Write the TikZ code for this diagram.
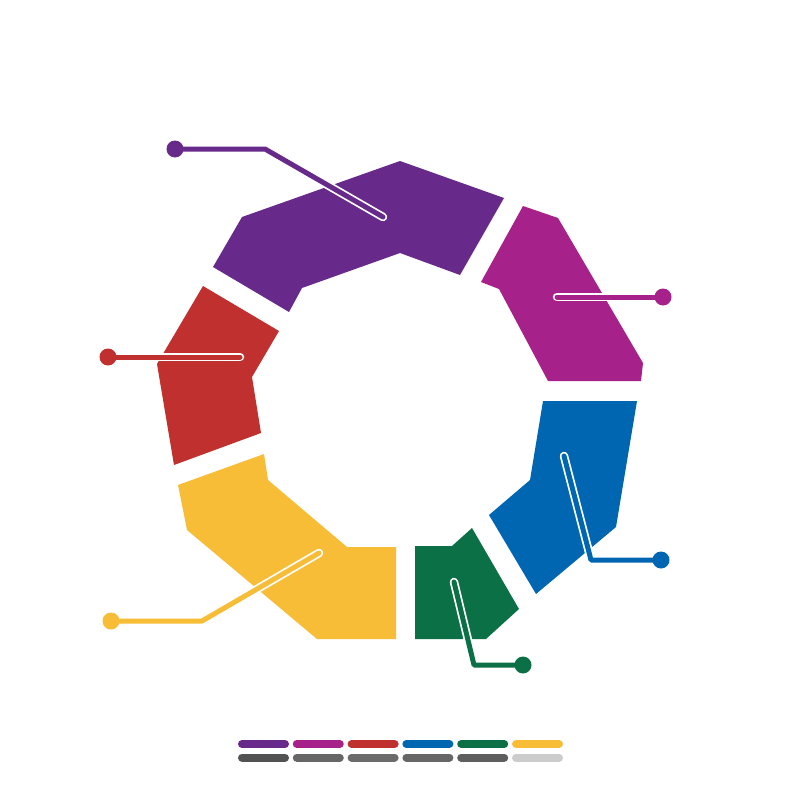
\documentclass[tikz,border=0pt]{standalone}
\usepackage{tikz}
\definecolor{grape}{RGB}{104,42,138}
\definecolor{plum}{RGB}{166,33,138}
\definecolor{brick}{RGB}{192,48,47}
\definecolor{ocean}{RGB}{0,102,178}
\definecolor{forest}{RGB}{11,112,69}
\definecolor{mustard}{RGB}{247,189,54}
\tikzset{
    lead/.style={draw=#1, line width=5pt, line cap=round, line join=round,
        preaction={draw=white, line width=8.5pt, line cap=round, line join=round}},
    dot/.style={shape=circle, inner sep=0pt, minimum size=17pt, fill=#1},
    bar/.style={draw=#1, line width=8pt, line cap=round}
}
\begin{document}
\begin{tikzpicture}[x=1pt,y=-1pt]
\useasboundingbox[fill=white] (0,0) rectangle (800,800);
% ring segments
\fill[grape]   (242,217) -- (400,161) -- (504,198) -- (460,275) -- (400,253) -- (302,288) -- (289,312) -- (213,267) -- cycle;
\fill[plum]    (523,206) -- (558,218) -- (643,363) -- (641,381) -- (548,381) -- (499,289) -- (481,282) -- cycle;
\fill[brick]   (203,286) -- (279,331) -- (252,377) -- (261,433) -- (174,465) -- (157,364) -- cycle;
\fill[ocean]   (543,401) -- (637,401) -- (616,527) -- (536,594) -- (489,515) -- (530,480) -- cycle;
\fill[forest]  (415,546) -- (452,546) -- (472,528) -- (519,609) -- (486,639) -- (415,639) -- cycle;
\fill[mustard] (178,485) -- (264,454) -- (268,480) -- (347,547) -- (396,547) -- (396,639) -- (317,639) -- (187,530) -- cycle;
% leads
\coordinate (p0) at (175,149); \coordinate (p1) at (265,149); \coordinate (p2) at (383,217);
\coordinate (m0) at (663,297); \coordinate (m1) at (557,297);
\coordinate (r0) at (108,357); \coordinate (r1) at (240,357);
\coordinate (b0) at (661,560); \coordinate (b1) at (591,560); \coordinate (b2) at (564,456);
\coordinate (g0) at (523,665); \coordinate (g1) at (474,665); \coordinate (g2) at (454,582);
\coordinate (y0) at (111,621); \coordinate (y1) at (202,621); \coordinate (y2) at (319,553);
\draw [lead=grape]   (p0) -- (p1) -- (p2);
\draw [lead=plum]    (m0) -- (m1);
\draw [lead=brick]   (r0) -- (r1);
\draw [lead=ocean]   (b0) -- (b1) -- (b2);
\draw [lead=forest]  (g0) -- (g1) -- (g2);
\draw [lead=mustard] (y0) -- (y1) -- (y2);
\node[dot=grape]   (pd) at (p0) {};
\node[dot=plum]    (md) at (m0) {};
\node[dot=brick]   (rd) at (r0) {};
\node[dot=ocean]   (bd) at (b0) {};
\node[dot=forest]  (gd) at (g0) {};
\node[dot=mustard] (yd) at (y0) {};
% palette
\foreach \c/\g [count=\i from 0] in {grape/black!68, plum/black!60, brick/black!58, ocean/black!60, forest/black!63, mustard/black!20}
{
    \draw [bar=\c] ({242+54.8*\i},744) -- ({285+54.8*\i},744);
    \draw [bar=\g] ({242+54.8*\i},757.5) -- ({285+54.8*\i},757.5);
}
\end{tikzpicture}
\end{document}
